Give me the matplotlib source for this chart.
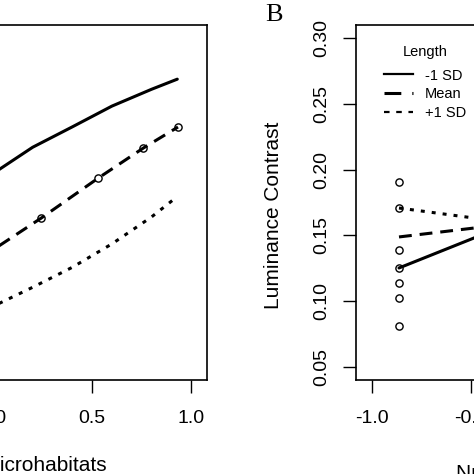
import matplotlib
matplotlib.use("Agg")
import matplotlib.pyplot as plt
from matplotlib.lines import Line2D

plt.rcParams['font.family'] = ['Liberation Sans', 'DejaVu Sans']

# ---------------- data ----------------
# Panel A (left): fitted curves vs number of microhabitats (scaled)
a_x = [0.0, 0.2, 0.4, 0.6, 0.8, 0.93]
a_minus1sd = [0.197, 0.217, 0.2325, 0.2483, 0.2611, 0.2688]
a_plus1sd = [0.096, 0.1105, 0.1257, 0.1435, 0.1640, 0.1795]
a_mean_x = [0.0, 0.2438, 0.5315, 0.7586, 0.9336]
a_mean = [0.139, 0.1632, 0.1936, 0.2164, 0.2324]
a_pts_x = [0.2438, 0.5315, 0.7586, 0.9336]
a_pts_y = [0.1632, 0.1936, 0.2164, 0.2324]

# Panel B (right): raw points and fitted lines
b_pts_x = [-0.863] * 7
b_pts_y = [0.1906, 0.1708, 0.1389, 0.1252, 0.1138, 0.1024, 0.0811]
b_line_x = [-0.863, -0.45]
b_minus1sd = [0.1252, 0.1501]
b_mean = [0.1488, 0.1562]
b_plus1sd = [0.1708, 0.1625]

xticks = [-1.0, -0.5, 0.0, 0.5, 1.0]
xticklabels = ["-1.0", "-0.5", "0.0", "0.5", "1.0"]
yticks = [0.05, 0.10, 0.15, 0.20, 0.25, 0.30]
yticklabels = ["0.05", "0.10", "0.15", "0.20", "0.25", "0.30"]
legend_labels = ["-1 SD", "Mean", "+1 SD"]
xlabel = "Number of microhabitats"
ylabel = "Luminance Contrast"

# ---------------- figure ----------------
W = 474.0
fig = plt.figure(figsize=(4.74, 4.74), dpi=100)
fig.patch.set_facecolor("white")

def px_axes(left, right, top, bottom):
    return fig.add_axes([left / W, 1 - bottom / W, (right - left) / W, (bottom - top) / W])

axA = px_axes(-221, 207, 25, 380)
axB = px_axes(356, 784, 25, 380)

LW = 2.2
dash_style = (0, (4.2, 2.6))
dot_style = (0, (1.3, 2.3))

for ax in (axA, axB):
    ax.set_xlim(-1.08, 1.08)
    ax.set_ylim(0.04, 0.31)
    ax.set_xticks(xticks)
    ax.set_xticklabels(xticklabels)
    ax.set_yticks(yticks)
    ax.set_yticklabels(yticklabels, rotation=90, va='center')
    ax.tick_params(direction='out', length=9.4, width=1.0, labelsize=14,
                   colors='black')
    ax.tick_params(axis='x', pad=12.0)
    ax.tick_params(axis='y', pad=9.0)
    for s in ax.spines.values():
        s.set_linewidth(1.2)
        s.set_color('black')
    ax.set_ylabel(ylabel, fontsize=15)
    ax.yaxis.label.set_va('center')
    ax.yaxis.set_label_coords(-0.192, 0.4648)

# Panel A
axA.plot(a_x, a_minus1sd, color='black', lw=LW, solid_capstyle='round')
axA.plot(a_mean_x, a_mean, color='black', lw=LW, linestyle=dash_style)
axA.plot(a_x, a_plus1sd, color='black', lw=LW, linestyle=dot_style)
axA.plot(a_pts_x, a_pts_y, linestyle='none', marker='o', markersize=5.2,
         markerfacecolor='none', markeredgecolor='black', markeredgewidth=1.0)
axA.set_xlabel(xlabel, fontsize=15, va='baseline')
axA.xaxis.set_label_coords(0.5, -0.2563)

# Panel B
axB.plot(b_line_x, b_minus1sd, color='black', lw=LW, solid_capstyle='round')
axB.plot(b_line_x, b_mean, color='black', lw=LW, linestyle=dash_style)
axB.plot(b_line_x, b_plus1sd, color='black', lw=LW, linestyle=dot_style)
axB.plot(b_pts_x, b_pts_y, linestyle='none', marker='o', markersize=5.2,
         markerfacecolor='none', markeredgecolor='black', markeredgewidth=1.0)
axB.set_xlabel(xlabel, fontsize=15, va='baseline')
axB.xaxis.set_label_coords(0.5, -0.2789)

handles = [
    Line2D([], [], color='black', lw=1.6),
    Line2D([], [], color='black', lw=2.2, linestyle=(0, (5.5, 3.6))),
    Line2D([], [], color='black', lw=1.6, linestyle=(0, (2.5, 3.0))),
]
leg = axB.legend(handles, legend_labels, title="Length", frameon=False,
                 loc='upper left', bbox_to_anchor=(384 / W, 1 - 45 / W),
                 bbox_transform=fig.transFigure, fontsize=10.5,
                 title_fontsize=10.5, handlelength=2.0, handletextpad=0.8,
                 labelspacing=0.33, borderpad=0, borderaxespad=0)
leg._legend_box.sep = 6.9

fig.text(265 / W, 1 - 21 / W, "B", family=['Liberation Serif', 'DejaVu Serif'],
         fontsize=19, ha='left', va='baseline')

fig.savefig("out.png", dpi=100, facecolor='white')
